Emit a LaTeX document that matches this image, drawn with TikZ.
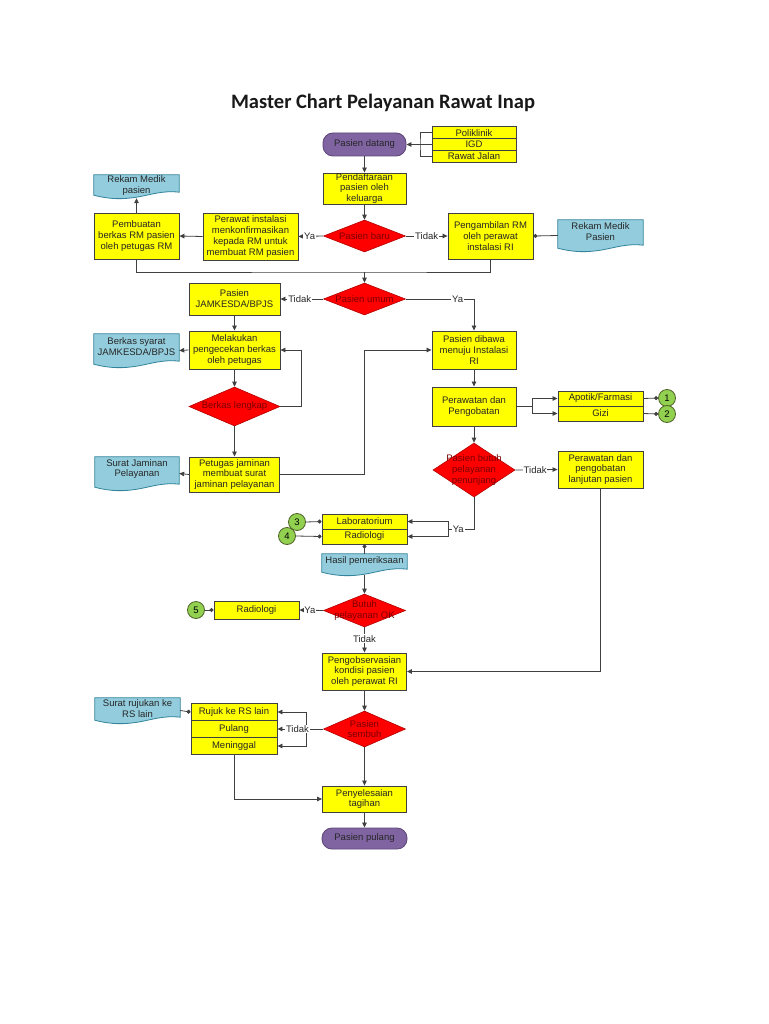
\documentclass[tikz,border=0pt]{standalone}
\usepackage{fontspec}
\setmainfont{Liberation Sans}
\newfontfamily\titlefont{Carlito}
\usetikzlibrary{arrows.meta,shapes.geometric,calc,backgrounds}
\definecolor{yel}{HTML}{FFFF00}
\definecolor{docblue}{HTML}{93CDDD}
\definecolor{docedge}{HTML}{31849B}
\definecolor{pur}{HTML}{8064A2}
\definecolor{puredge}{HTML}{5F497A}
\definecolor{grn}{HTML}{92D050}
\definecolor{grnedge}{HTML}{4F6228}
\definecolor{diatxt}{HTML}{7A0000}
\newcommand\boxfont{\fontsize{9.5}{10.8}\selectfont}
\newcommand\wavedoc[1]{%
\begin{pgfonlayer}{background}
\path[docshape] (#1.north west) -- ($(#1.south west)+(0,-3)$)
 .. controls ($(#1.south west)!0.2!(#1.south east)+(0,1.5)$) and ($(#1.south west)!0.35!(#1.south east)+(0,1)$) .. ($(#1.south)+(0,-1)$)
 .. controls ($(#1.south west)!0.65!(#1.south east)+(0,-3)$) and ($(#1.south west)!0.8!(#1.south east)+(0,-8)$) .. ($(#1.south east)+(0,-6)$)
 -- (#1.north east) -- cycle;
\end{pgfonlayer}}
\begin{document}
\begin{tikzpicture}[x=1pt,y=-1pt,
  sz/.style 2 args={minimum width=#1, minimum height=#2},
  box/.style={draw=black!75, line width=0.9pt, fill=yel, inner sep=0pt, align=center, font=\boxfont, text=black!85},
  term/.style={draw=puredge, line width=0.9pt, fill=pur, rounded corners=10pt, inner sep=0pt, align=center, font=\boxfont, text=black!85},
  dia/.style={diamond, draw=red!70!black, line width=0.6pt, fill=red, inner sep=0pt},
  diatext/.style={font=\boxfont, text=diatxt, align=center, inner sep=0pt},
  doc/.style={inner sep=0pt},
  doctext/.style={font=\boxfont, text=black!85, align=center, inner sep=0pt},
  docshape/.style={fill=docblue, draw=docedge, line width=0.8pt},
  num/.style={circle, draw=grnedge, line width=0.8pt, fill=grn, minimum size=17pt, inner sep=0pt, font=\boxfont},
  conn/.style={draw=black!75, line width=0.8pt},
  arr/.style={conn, -{Triangle[length=5pt,width=4.5pt]}},
  dotend/.style={conn, -{Circle[length=4pt]}},
  dotstart/.style={conn, {Circle[length=4pt]}-},
  lab/.style={font=\boxfont, fill=white, inner sep=0.8pt, text=black!85}
]
\begin{pgfonlayer}{background}
\fill[white] (0,0) rectangle (768,1024);
\end{pgfonlayer}
\useasboundingbox (0,0) rectangle (768,1024);

\node[anchor=base, font=\titlefont\bfseries\fontsize{20.5}{24}\selectfont, text=black!90] (title) at (383,109) {Master Chart Pelayanan Rawat Inap};

% top
\node[term, sz={83pt}{23pt}] (start) at (364.5,144.5) {Pasien datang};
\node[box, sz={84pt}{11.7pt}] (src1) at (474,132.8) {Poliklinik};
\node[box, sz={84pt}{11.7pt}] (src2) at (474,144.5) {IGD};
\node[box, sz={84pt}{11.7pt}] (src3) at (474,156.2) {Rawat Jalan};
\node[box, sz={83pt}{31pt}] (reg) at (364.5,188.5) {Pendaftaraan\\pasien oleh\\keluarga};
\node[dia, sz={82pt}{32pt}, label={[diatext]center:Pasien baru}] (baru) at (364.5,236) {};
\node[box, sz={95pt}{47pt}] (perawat) at (250.5,236.5) {Perawat instalasi\\menkonfirmasikan\\kepada RM untuk\\membuat RM pasien};
\node[box, sz={85pt}{46pt}] (buat) at (136.5,236) {Pembuatan\\berkas RM pasien\\oleh petugas RM};
\node[doc, sz={85pt}{23pt}, label={[doctext,yshift=1pt]center:Rekam Medik\\pasien}] (rm1) at (136.5,186.5) {};
\node[box, sz={85pt}{46pt}] (ambil) at (490.5,236) {Pengambilan RM\\oleh perawat\\instalasi RI};
\node[doc, sz={85pt}{31pt}, label={[doctext,yshift=3.5pt]center:Rekam Medik\\Pasien}] (rm2) at (600.5,235.5) {};

% middle left
\node[dia, sz={82pt}{32pt}, label={[diatext]center:Pasien umum}] (umum) at (364.5,299) {};
\node[box, sz={91pt}{32pt}] (jam) at (234.5,299) {Pasien\\JAMKESDA/BPJS};
\node[box, sz={91pt}{38pt}] (cek) at (234.5,350) {Melakukan\\pengecekan berkas\\oleh petugas};
\node[doc, sz={85pt}{33pt}, label={[doctext,yshift=4pt]center:Berkas syarat\\JAMKESDA/BPJS}] (syarat) at (136.5,350.5) {};
\node[dia, sz={91pt}{39pt}, label={[diatext]center:Berkas lengkap}] (lengkap) at (234.5,406.5) {};
\node[box, sz={90pt}{35pt}] (petugas) at (234.5,474.5) {Petugas jaminan\\membuat surat\\jaminan pelayanan};
\node[doc, sz={84pt}{33pt}, label={[doctext,yshift=4.5pt]center:Surat Jaminan\\Pelayanan}] (jaminan) at (137,473.5) {};

% middle right
\node[box, sz={84pt}{38pt}] (dibawa) at (474,350) {Pasien dibawa\\menuju Instalasi\\RI};
\node[box, sz={84pt}{39pt}] (rawat) at (474,406.5) {Perawatan dan\\Pengobatan};
\node[box, sz={85pt}{15pt}] (apotik) at (600.5,398.5) {Apotik/Farmasi};
\node[box, sz={85pt}{15pt}] (gizi) at (600.5,413.5) {Gizi};
\node[num] (n1) at (667,398) {1};
\node[num] (n2) at (667,414) {2};
\node[dia, sz={82pt}{54pt}, label={[diatext]center:Pasien butuh\\pelayanan\\penunjang}] (tunjang) at (474,470) {};
\node[box, sz={85pt}{37pt}] (lanjut) at (600.5,469.5) {Perawatan dan\\pengobatan\\lanjutan pasien};

% penunjang
\node[box, sz={85pt}{15pt}] (lab) at (364.5,521.5) {Laboratorium};
\node[box, sz={85pt}{15pt}] (rad) at (364.5,536.5) {Radiologi};
\node[num] (n3) at (297,522) {3};
\node[num] (n4) at (287,536) {4};
\node[doc, sz={85pt}{21pt}, label={[doctext,yshift=3pt]center:Hasil pemeriksaan}] (hasil) at (364.5,564.5) {};
\node[dia, sz={82pt}{33pt}, label={[diatext]center:Butuh\\pelayanan OK}] (ok) at (364.5,610.5) {};
\node[box, sz={85pt}{18pt}] (rad5) at (256.5,610) {Radiologi};
\node[num] (n5) at (196,610) {5};

% bottom
\node[box, sz={84pt}{37pt}] (obs) at (364.5,671.5) {Pengobservasian\\kondisi pasien\\oleh perawat RI};
\node[dia, sz={82pt}{36pt}, label={[diatext]center:Pasien\\sembuh}] (sembuh) at (364.5,729) {};
\node[box, sz={86pt}{17pt}] (rujuk) at (234,712) {Rujuk ke RS lain};
\node[box, sz={86pt}{17pt}] (pulang) at (234,729) {Pulang};
\node[box, sz={86pt}{17pt}] (mati) at (234,746) {Meninggal};
\node[doc, sz={85pt}{25pt}, label={[doctext,yshift=2pt]center:Surat rujukan ke\\RS lain}] (surat) at (137.5,710.5) {};
\node[box, sz={84pt}{26pt}] (tagih) at (364.5,799) {Penyelesaian\\tagihan};
\node[term, sz={85pt}{21pt}] (end) at (364.5,838.5) {Pasien pulang};

% document shapes
\wavedoc{rm1}
\wavedoc{rm2}
\wavedoc{syarat}
\wavedoc{jaminan}
\wavedoc{hasil}
\wavedoc{surat}

% coordinates
\coordinate (b1) at (420,144.5);
\coordinate (j1) at (364.5,272);
\coordinate (c2) at (301,406.5);
\coordinate (c3) at (364,474.5);
\coordinate (f1) at (532,406.5);
\coordinate (c5) at (448,529);
\coordinate (c6) at (306,729);

% connectors
\draw[conn] (src1.west) -| (b1) |- (src3.west);
\draw[arr] (src2.west) -- (start.east);
\draw[arr] (start.south) -- (reg.north);
\draw[arr] (reg.south) -- (baru.north);
\draw[arr] (baru.west) -- node[lab,pos=0.55]{Ya} (perawat.east);
\draw[arr] (perawat.west) -- (buat.east);
\draw[arr] (buat.north) -- (rm1.south);
\draw[arr] (baru.east) -- node[lab,pos=0.5]{Tidak} (ambil.west);
\draw[dotend] (rm2.west) -- (ambil.east);
\draw[conn] (buat.south) |- (j1) -| (ambil.south);
\draw[arr] (j1) -- (umum.north);

\draw[arr] (umum.west) -- node[lab,pos=0.55]{Tidak} (jam.east);
\draw[arr] (umum.east) -| node[lab,pos=0.38]{Ya} (dibawa.north);
\draw[arr] (jam.south) -- (cek.north);
\draw[arr] (cek.west) -- (syarat.east);
\draw[arr] (cek.south) -- (lengkap.north);
\draw[arr] (lengkap.east) -- (c2) |- (cek.east);
\draw[arr] (lengkap.south) -- (petugas.north);
\draw[arr] (petugas.west) -- (jaminan.east);
\draw[arr] (petugas.east) -- (c3) |- (dibawa.west);

\draw[arr] (dibawa.south) -- (rawat.north);
\draw[conn] (rawat.east) -- (f1);
\draw[arr] (f1) |- (apotik.west);
\draw[arr] (f1) |- (gizi.west);
\draw[dotend] (apotik.east) -- (n1.west);
\draw[dotend] (gizi.east) -- (n2.west);
\draw[arr] (rawat.south) -- (tunjang.north);
\draw[arr] (tunjang.east) -- node[lab,pos=0.47]{Tidak} (lanjut.west);
\draw[arr] (lanjut.south) |- (obs.east);

\draw[conn] (tunjang.south) |- node[lab,pos=0.93,anchor=west]{Ya} (c5);
\draw[arr] (c5) |- (lab.east);
\draw[arr] (c5) |- (rad.east);
\draw[dotend] (n3.east) -- (lab.west);
\draw[dotend] (n4.east) -- (rad.west);
\draw[dotstart] (rad.south) -- (hasil.north);
\draw[arr] (hasil.south) -- (ok.north);
\draw[arr] (ok.west) -- node[lab,pos=0.56]{Ya} (rad5.east);
\draw[dotend] (n5.east) -- (rad5.west);
\draw[arr] (ok.south) -- node[lab,pos=0.45]{Tidak} (obs.north);

\draw[arr] (obs.south) -- (sembuh.north);
\draw[conn] (sembuh.west) -- (c6);
\draw[arr] (c6) |- (rujuk.east);
\draw[arr] (c6) |- (mati.east);
\draw[arr] (c6) -- node[lab,pos=0.3]{Tidak} (pulang.east);
\draw[dotend] (surat.east) -- (rujuk.west);
\draw[arr] (mati.south) |- (tagih.west);
\draw[arr] (sembuh.south) -- (tagih.north);
\draw[arr] (tagih.south) -- (end.north);
\end{tikzpicture}
\end{document}
